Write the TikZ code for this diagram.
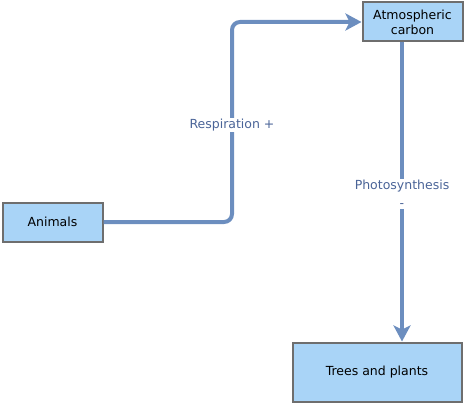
\documentclass[tikz,border=0pt]{standalone}
\usepackage{fontspec}
\setmainfont{DejaVu Sans}
\usetikzlibrary{positioning, arrows.meta}
\definecolor{boxfill}{HTML}{A9D4F7}
\definecolor{boxline}{HTML}{6E6E6E}
\definecolor{flowline}{HTML}{6C8EBF}
\definecolor{flowtext}{HTML}{4A6498}

\begin{document}
\begin{tikzpicture}[x=1pt, y=-1pt,
    stock/.style={draw=boxline, line width=2pt, fill=boxfill, align=center, font=\fontsize{12.5}{15}\selectfont, inner sep=0pt},
    flow/.style={draw=flowline, line width=4pt, -{Stealth[length=16pt, width=17pt, inset=4pt]}, rounded corners=8pt},
    flowlabel/.style={fill=white, text=flowtext, align=center, font=\fontsize{12.5}{18}\selectfont, inner sep=1pt}]
            \useasboundingbox (0,0) rectangle (464,404);
            \node [stock, minimum width=100pt, minimum height=39pt] (carbon) at (412.5,22) {Atmospheric\\carbon};
            \node [stock, minimum width=100pt, minimum height=39pt] (animals) at (52.5,222) {Animals};
            \node [stock, minimum width=169pt, minimum height=59pt] (trees) at (377,372) {Trees and plants};
            \coordinate (bend) at (232,0);
            \draw [flow] (animals.east) -| (bend |- carbon.west) -- (carbon.west);
            \node [flowlabel] (resp) at (232,125) {Respiration +};
            \draw [flow] (carbon.south -| 402,0) -- (trees.north -| 402,0);
            \node [flowlabel] (photo) at (402,194) {Photosynthesis\\-};
        \end{tikzpicture}
\end{document}
